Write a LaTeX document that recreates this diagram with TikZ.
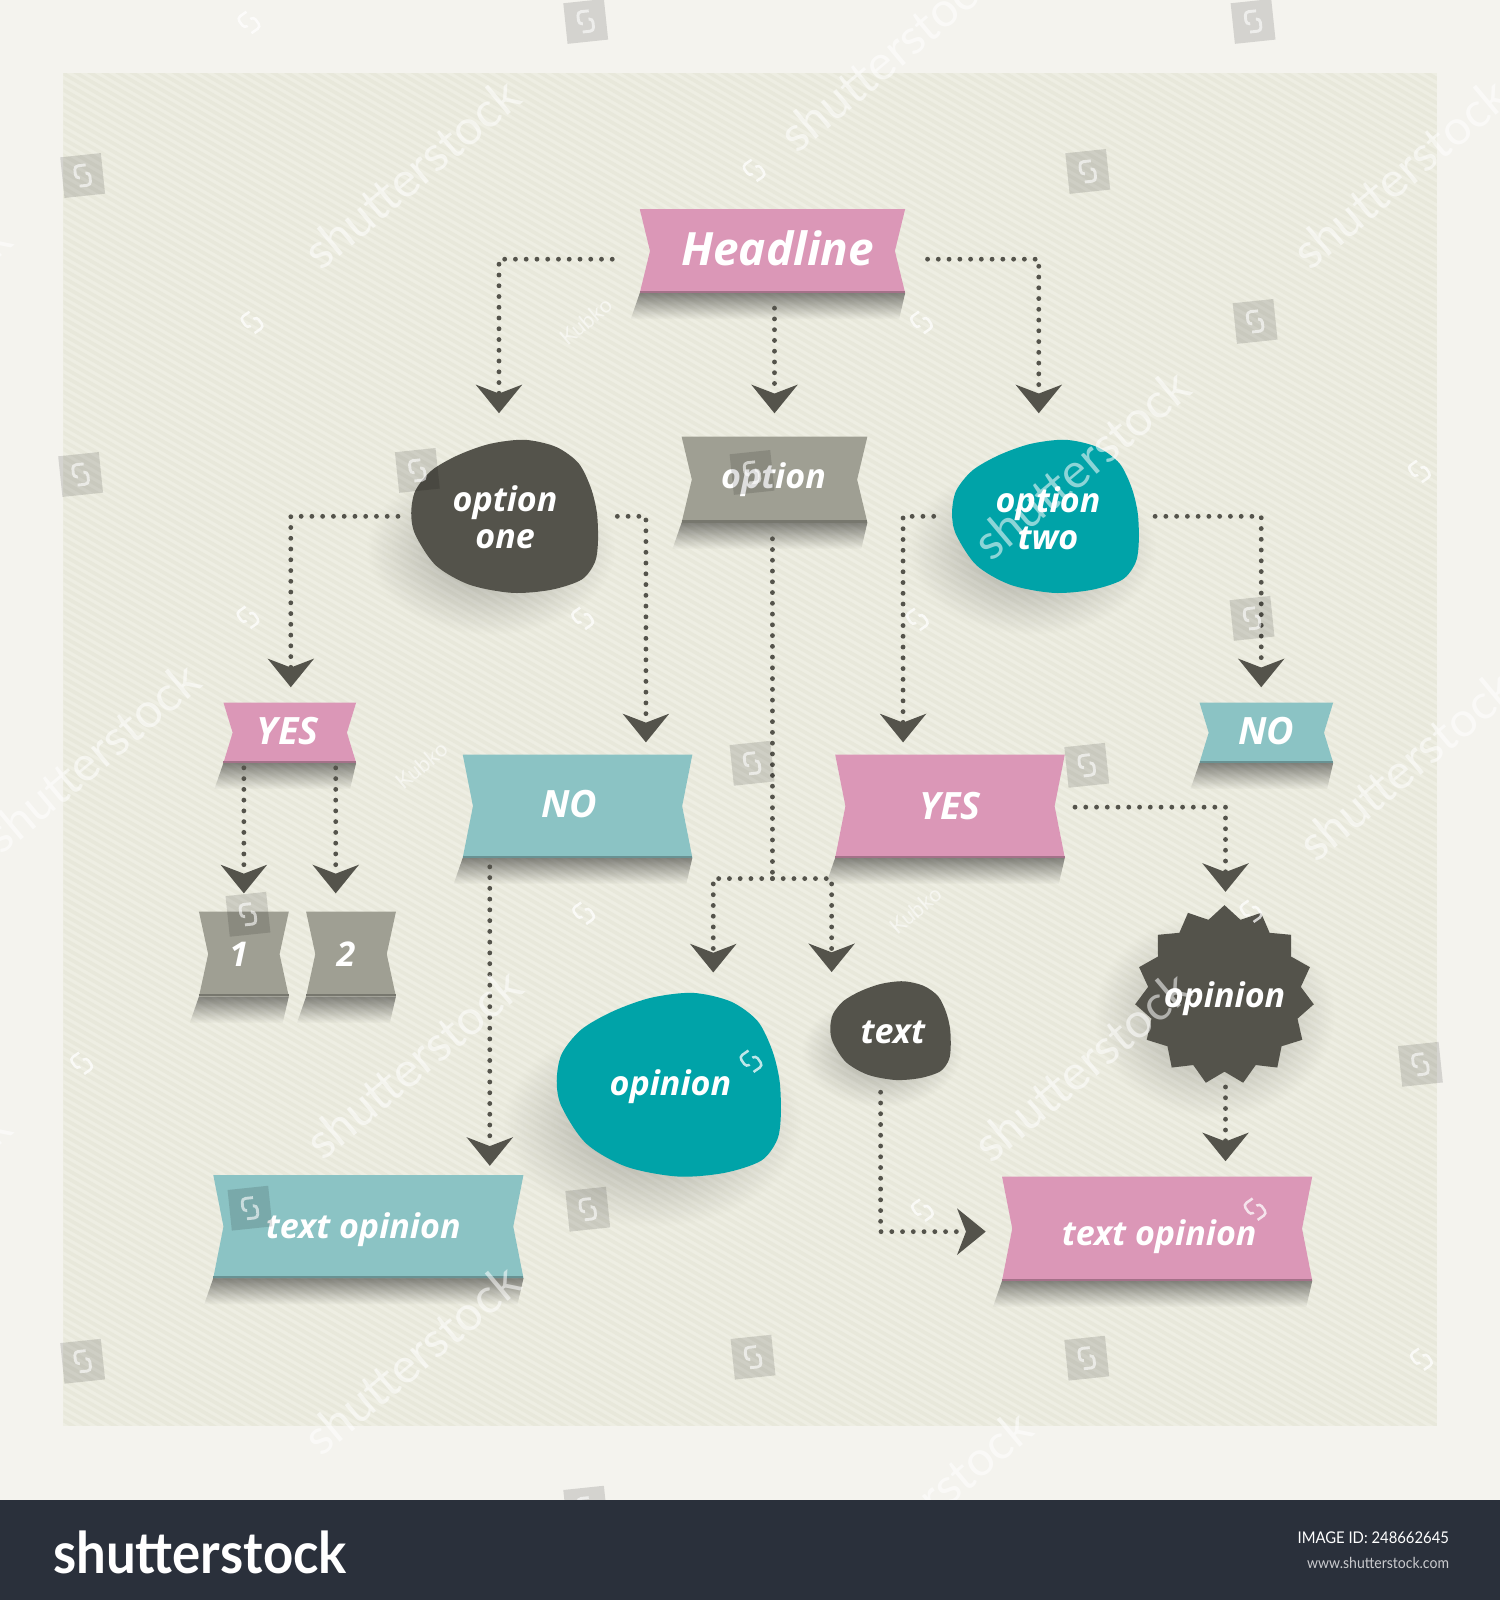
\documentclass[tikz,border=0pt]{standalone}
\usepackage{fontspec}
\setmainfont{Open Sans}
\newfontfamily\lato{Lato}
\usepackage{xcolor}
\usetikzlibrary{
	calc,
	arrows.meta,
	shapes.geometric,
	fadings
	}
\definecolor{fond}{HTML}{F4F3EE}
\definecolor{panneau}{HTML}{EEEEE3}
\definecolor{strie}{HTML}{E8E8DB}
\definecolor{rose}{HTML}{DB97B7}
\definecolor{gris}{HTML}{9F9F93}
\definecolor{bleu}{HTML}{8BC3C4}
\definecolor{sarcelle}{HTML}{00A3A8}
\definecolor{sombre}{HTML}{54534B}
\definecolor{bandeau}{HTML}{2A303B}
\tikzfading[name=ombre,inner color=transparent!0,outer color=transparent!100]
\tikzstyle{lien}=[draw=sombre,line width=2.7pt,line cap=round,dash pattern=on 0pt off 6pt,
	-{Stealth[length=16pt,width=26pt,inset=5pt,line width=0pt,sombre]}]
\tikzstyle{boite}=[inner sep=0pt,outer sep=0pt]
\tikzstyle{texte}=[text=white,font=\fontsize{19}{20.5}\selectfont\bfseries\itshape,align=center,inner sep=0pt]
\tikzstyle{grand}=[font=\fontsize{21}{23}\selectfont\bfseries\itshape]
\tikzstyle{filigrane}=[text=white,text opacity=.55,rotate=40,font=\lato\fontsize{27}{30}\selectfont,inner sep=0pt]
\newcommand{\ruban}[6]{%
	\begin{scope}[shift={#2}]
	\fill[black,opacity=.45,path fading=south] (-#3/2,#4/2) -- (#3/2,#4/2) -- (#3/2-6,#4/2+26) -- (-#3/2-9,#4/2+26) -- cycle;
	\fill[#6] (-#3/2,-#4/2) -- (#3/2,-#4/2) -- (#3/2-#5,0) -- (#3/2,#4/2) -- (-#3/2,#4/2) -- (-#3/2+#5,0) -- cycle;
	\draw[#6!75!black,line width=1.2pt] (-#3/2,#4/2-1) -- (#3/2,#4/2-1);
	\node[boite,minimum width=#3*.02cm,minimum height=#4*.02cm] (#1) at (0,0) {};
	\end{scope}}
\newcommand{\tache}[4]{%
	\begin{scope}[shift={#2},scale=#3]
	\fill[black,opacity=.3,path fading=ombre] (-14,32) ellipse (122 and 84);
	\fill[#4] plot[smooth cycle] coordinates {(-92,-3) (-88,-25) (-72,-45) (-46,-60) (-15,-71) (19,-75) (50,-68) (72,-52)
		(84,-28) (90,-3) (91,25) (88,45) (75,62) (45,72) (7,75) (-35,67) (-68,48) (-88,18)};
	\end{scope}
	\node[boite,minimum width=184*#3*.02cm,minimum height=150*#3*.02cm] (#1) at #2 {};}
\newcommand{\tampon}[2]{%
	\begin{scope}[shift={#1},rotate=#2]
	\fill[black,opacity=.13] (-20,-20) rectangle (20,20);
	\draw[white,opacity=.6,line width=1.6pt,rounded corners=2pt] (4,-10) -- (-7,-10) -- (-7,2) -- (-3,2);
	\draw[white,opacity=.6,line width=1.6pt,rounded corners=2pt] (-4,10) -- (7,10) -- (7,-2) -- (3,-2);
	\end{scope}}
\newcommand{\boucle}[1]{%
	\begin{scope}[shift={#1},rotate=35]
	\draw[white,opacity=.75,line width=1.4pt,rounded corners=2pt] (4,-10) -- (-7,-10) -- (-7,2) -- (-3,2);
	\draw[white,opacity=.75,line width=1.4pt,rounded corners=2pt] (-4,10) -- (7,10) -- (7,-2) -- (3,-2);
	\end{scope}}

\begin{document}
\begin{tikzpicture}[x=.02cm,y=-.02cm]
\useasboundingbox (0,0) rectangle (1470,1568);
\fill[fond] (0,0) rectangle (1470,1568);
\fill[panneau] (62,72) rectangle (1408,1397);
\begin{scope}
\clip (62,72) rectangle (1408,1397);
\foreach \i in {-900,-892,...,1400}
	\draw[strie,line width=2pt] (0,\i) -- (1470,\i+853);
\end{scope}

% les formes
\ruban{headline}{(757,246)}{260}{82}{10}{rose}
\ruban{option}{(759,470)}{182}{84}{10}{gris}
\ruban{yesa}{(284,718)}{130}{59}{9}{rose}
\ruban{noa}{(1241,718)}{131}{59}{9}{bleu}
\ruban{nob}{(566,790)}{225}{101}{10}{bleu}
\ruban{yesb}{(931,790)}{225}{101}{10}{rose}
\ruban{un}{(239,935)}{88}{83}{9}{gris}
\ruban{deux}{(344,935)}{88}{83}{9}{gris}
\ruban{textea}{(361,1202)}{304}{101}{10}{bleu}
\ruban{texteb}{(1134,1204)}{304}{102}{10}{rose}
\tache{optionone}{(495,506)}{1}{sombre}
\tache{optiontwo}{(1025,506)}{1}{sarcelle}
\tache{opiniona}{(656,1063)}{1.2}{sarcelle}
\tache{texteblob}{(873,1010)}{.645}{sombre}
\fill[black,opacity=.3,path fading=ombre] (1190,995) ellipse (118 and 100);
\node[boite,star,star points=15,star point ratio=1.17,minimum size=176*.02cm,fill=sombre] (opinionb) at (1200,975) {};

% les liens
\draw[lien] ($(headline.west)+(-27,8)$) -| ($(optionone.north)+(-6,-26)$);
\draw[lien] ($(headline.south)+(2,15)$) -- ($(option.north)+(0,-23)$);
\draw[lien] ($(headline.east)+(22,8)$) -| ($(optiontwo.north)+(-7,-26)$);
\draw[lien] ($(optionone.west)+(-13,0)$) -| ($(yesa.north)+(1,-15)$);
\draw[lien] ($(optionone.east)+(18,0)$) -| ($(nob.north)+(67,-12)$);
\draw[lien] ($(optiontwo.west)+(-18,0)$) -| ($(yesb.north)+(-46,-12)$);
\draw[lien] ($(optiontwo.east)+(15,0)$) -| ($(noa.north)+(-5,-15)$);
\draw[lien] ($(yesa.south)+(-45,5)$) -- ($(un.north)+(0,-18)$);
\draw[lien] ($(yesa.south)+(45,5)$) -- ($(deux.north)+(-15,-18)$);
\draw[lien] ($(nob.south)+(-86,9)$) -- ($(textea.north)+(119,-9)$);
\draw[lien] ($(yesb.east)+(10,1)$) -| ($(opinionb.north)+(1,-13)$);
\draw[lien] ($(opinionb.south)+(1,15)$) -- ($(texteb.north)+(67,-15)$);
\draw[lien] ($(texteblob.south)+(-10,12)$) |- ($(texteb.west)+(-16,3)$);
\draw[lien,-] ($(option.south)+(-2,16)$) -- ($(option.south)+(-2,349)$);
\coordinate (fourche) at ($(option.south)+(-2,349)$);
\draw[lien] (fourche) -| ($(opiniona.north)+(43,-20)$);
\draw[lien] (fourche) -| ($(texteblob.north)+(-58,-9)$);

% les textes
\node[texte,font=\fontsize{25.6}{28}\selectfont\bfseries\itshape] (theadline) at ($(headline)+(5,-3)$) {Headline};
\node[texte] (toption) at ($(option)+(-1,0)$) {option};
\node[texte] (toptionone) at ($(optionone)+(0,1)$) {option\\one};
\node[texte] (toptiontwo) at ($(optiontwo)+(2,2)$) {option\\two};
\node[texte,grand] (tyesa) at ($(yesa)+(-2,-2)$) {YES};
\node[texte,grand] (tnoa) at ($(noa)+(0,-2)$) {NO};
\node[texte,grand] (tnob) at ($(nob)+(-8,-2)$) {NO};
\node[texte,grand] (tyesb) at (yesb) {YES};
\node[texte] (tun) at ($(un)+(-5,0)$) {1};
\node[texte] (tdeux) at ($(deux)+(-5,0)$) {2};
\node[texte] (ttextea) at ($(textea)+(-5,3)$) {text opinion};
\node[texte] (ttexteb) at ($(texteb)+(2,8)$) {text opinion};
\node[texte] (topiniona) at ($(opiniona)+(1,2)$) {opinion};
\node[texte] (ttexteblob) at ($(texteblob)+(2,2)$) {text};
\node[texte] (topinionb) at ($(opinionb)+(0,4)$) {opinion};

% les filigranes
\foreach \x/\y [count=\n] in {403/170,870/55,1372/170,1060/455,90/742,1378/750,405/1042,1060/1045,403/1332,905/1475,-95/310,-95/1180}
	\node[filigrane] (fil\n) at (\x,\y) {shutterstock};
\node[filigrane,font=\lato\fontsize{12}{14}\selectfont] (kubkoa) at (574,315) {Kubko};
\node[filigrane,font=\lato\fontsize{12}{14}\selectfont] (kubkob) at (413,750) {Kubko};
\node[filigrane,font=\lato\fontsize{12}{14}\selectfont] (kubkoc) at (897,892) {Kubko};
\foreach \x/\y in {574/21,1228/21,81/172,1066/168,79/465,1230/315,409/461,737/463,1227/606,737/748,1065/750,243/896,1392/1043,576/1185,245/1184,81/1334,738/1330,1065/1331,574/1478}
	{\tampon{(\x,\y)}{6}}
\foreach \x/\y in {244/22,739/167,247/316,903/316,1391/462,243/605,571/606,899/607,572/895,1226/893,80/1042,736/1040,904/1186,1230/1185,1393/1332}
	{\boucle{(\x,\y)}}

% le bandeau
\fill[bandeau] (0,1470) rectangle (1470,1568);
\node[boite,text=white,anchor=west,xscale=.92,font=\lato\fontsize{32}{34}\selectfont\bfseries] (logo) at (52,1521) {shutterstock};
\node[boite,text=white,anchor=east,xscale=.92,font=\lato\fontsize{9}{11}\selectfont] (imageid) at (1420,1507) {IMAGE ID: 248662645};
\node[boite,text=white!75!bandeau,anchor=east,xscale=.92,font=\lato\fontsize{8.5}{11}\selectfont] (site) at (1420,1532) {www.shutterstock.com};
\end{tikzpicture}
\end{document}
